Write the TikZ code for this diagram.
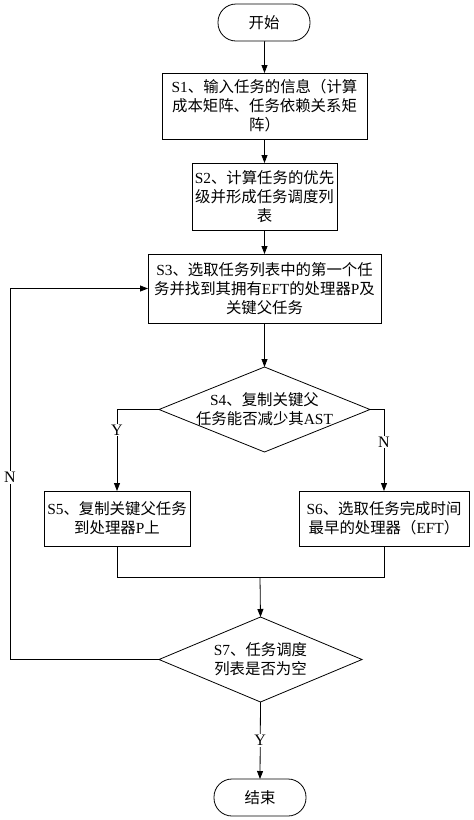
\documentclass[tikz,border=0pt]{standalone}
\usepackage{fontspec}
\setmainfont{Liberation Serif}
\newfontfamily\cjk{Noto Sans CJK SC}
\newcommand\lat[1]{{\rmfamily #1}}
\usetikzlibrary{shapes.geometric,arrows.meta}
\begin{document}
\begin{tikzpicture}[x=1pt,y=-1pt,
  every node/.style={inner sep=0pt, outer sep=0pt},
  txt/.style={align=center, font=\cjk\fontsize{15.4}{19}\selectfont},
  stepbox/.style={draw, line width=0.8pt, rectangle, txt},
  term/.style={draw, line width=0.8pt, rectangle, rounded corners=18pt, minimum width=92pt, minimum height=37pt, txt},
  dia/.style={draw, line width=0.8pt, diamond, minimum width=#1, minimum height=85pt},
  lnk/.style={line width=0.8pt},
  arr/.style={lnk, -{Triangle[length=8pt,width=6pt]}},
  lbl/.style={fill=white, inner sep=1pt, font=\rmfamily\fontsize{16}{19}\selectfont}
]
\useasboundingbox (0,0) rectangle (474,820);
\node[term] (start) at (264,22.5) {开始};
\node[stepbox, minimum width=205pt, minimum height=66pt] (s1) at (264.5,106) {\lat{S1}、输入任务的信息（计算\\成本矩阵、任务依赖关系矩\\阵）};
\node[stepbox, minimum width=145pt, minimum height=67pt] (s2) at (264.5,196.5) {\lat{S2}、计算任务的优先\\级并形成任务调度列\\表};
\node[stepbox, minimum width=233pt, minimum height=69pt] (s3) at (264.5,288.5) {\lat{S3}、选取任务列表中的第一个任\\务并找到其拥有\lat{EFT}的处理器\lat{P}及\\关键父任务};
\node[dia=211pt] (s4) at (264.5,409.5) {};
\node[txt] (s4t) at (264.5,409.5) {\lat{S4}、复制关键父\\任务能否减少其\lat{AST}};
\node[stepbox, minimum width=146pt, minimum height=55pt] (s5) at (117,518.5) {\lat{S5}、复制关键父任务\\到处理器\lat{P}上};
\node[stepbox, minimum width=170pt, minimum height=55pt] (s6) at (384,518.5) {\lat{S6}、选取任务完成时间\\最早的处理器（\lat{EFT}）};
\node[dia=203pt] (s7) at (260.5,659.5) {};
\node[txt] (s7t) at (260.5,659.5) {\lat{S7}、任务调度\\列表是否为空};
\node[term] (end) at (260,797.5) {结束};
\coordinate (j) at (260,577);
\coordinate (lp) at (10,659.5);

\draw[arr] (start) -- (s1.north |- start.south) -- (s1.north);
\draw[arr] (s1.south) -- (s2.north);
\draw[arr] (s2.south) -- (s3.north);
\draw[arr] (s3.south) -- (s4.north);
\draw[arr] (s4.west) -| node[lbl, pos=0.625] {Y} (s5.north);
\draw[arr] (s4.east) -| node[lbl, pos=0.7] {N} (s6.north);
\draw[lnk] (s5.south) |- (j);
\draw[lnk] (s6.south) |- (j);
\draw[arr] (j) -- (s7.north);
\draw[arr] (s7.west) -- (lp) |- node[lbl, pos=0.245] {N} (s3.west);
\draw[arr] (s7.south) -- node[lbl, pos=0.5] {Y} (end.north);
\end{tikzpicture}
\end{document}
